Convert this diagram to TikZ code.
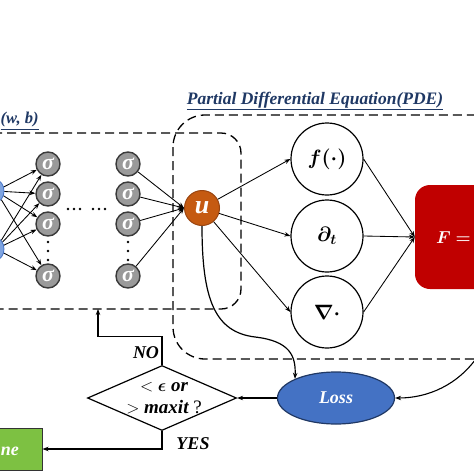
\documentclass[tikz,border=0pt]{standalone}
\usepackage{fontspec}
\setmainfont{Liberation Serif}
\usepackage{bm}
\usetikzlibrary{arrows.meta,shapes.geometric}
\definecolor{navy}{HTML}{1F3864}
\definecolor{sgfill}{HTML}{9A9A9A}
\definecolor{sgdraw}{HTML}{3A3A3A}
\definecolor{uorange}{HTML}{C55A11}
\definecolor{uborder}{HTML}{9A4510}
\definecolor{fred}{HTML}{C00000}
\definecolor{lblue}{HTML}{4472C4}
\definecolor{ldark}{HTML}{203864}
\definecolor{inblue}{HTML}{7FA4E0}
\definecolor{dgreen}{HTML}{7DC142}
\begin{document}
\begin{tikzpicture}[x=1pt,y=-1pt,
  sig/.style={circle, draw=sgdraw, line width=1.4pt, fill=sgfill, minimum size=24pt, inner sep=0pt, text=white, font=\fontsize{22}{22}\selectfont\bfseries\itshape},
  inp/.style={ellipse, draw=lblue, line width=0.8pt, fill=inblue, minimum width=16pt, minimum height=22pt, inner sep=0pt},
  pdec/.style={circle, draw, line width=1.2pt, minimum size=72pt, inner sep=0pt, font=\fontsize{21}{21}\selectfont},
  dbox/.style={draw, dash pattern=on 9pt off 5pt, line width=1.3pt},
  arr/.style={line width=0.85pt, -{Stealth[length=6pt,width=4.5pt]}},
  lab/.style={font=\fontsize{18}{18}\selectfont\bfseries\itshape},
  dotc/.style={circle, fill=black, inner sep=0pt, minimum size=2.8pt}
]
\useasboundingbox (0,0) rectangle (474,474);
\clip (0,0) rectangle (474,474);

% dashed boxes
\draw[dbox, rounded corners=20pt] (-40,133) rectangle (241,309);
\draw[dbox, rounded corners=32pt] (173,115) rectangle (530,359);

% titles
\node[text=navy, anchor=west, inner sep=0pt, font=\fontsize{16.5}{16.5}\selectfont\bfseries\itshape] (ttl1) at (0.5,121) {\underline{(w, b)}};
\node[text=navy, inner sep=0pt, font=\fontsize{17.5}{17.5}\selectfont\bfseries\itshape] (ttl2) at (315,101) {\underline{Partial Differential Equation(PDE)}};

% inputs
\node[inp] (i1) at (-4,191) {};
\node[inp] (i2) at (-4,249) {};

% hidden layers
\node[sig] (a1) at (48,164) {σ};
\node[sig] (a2) at (48,194) {σ};
\node[sig] (a3) at (48,224) {σ};
\node[sig] (a4) at (48,276) {σ};
\node[sig] (b1) at (128,164) {σ};
\node[sig] (b2) at (128,194) {σ};
\node[sig] (b3) at (128,224) {σ};
\node[sig] (b4) at (128,276) {σ};

% dots
\foreach \y [count=\k] in {242,251,260} {
  \node[dotc] (va\k) at (48,\y) {};
  \node[dotc] (vb\k) at (128,\y) {};
}
\foreach \x [count=\k] in {68,74,80,93,99,105} {
  \node[dotc] (h\k) at (\x,209) {};
}

% output u
\node[circle, fill=uorange, draw=uborder, line width=1pt, minimum size=35pt, inner sep=0pt, text=white, font=\fontsize{26}{26}\selectfont\bfseries\itshape] (u) at (202,208) {u};

% PDE operators
\node[pdec] (f) at (327,159) {$\bm{f(\cdot)}$};
\node[pdec] (dt) at (327,236) {$\bm{\partial_t}$};
\node[pdec] (nab) at (327,312) {$\bm{\nabla\cdot}$};

% F box
\node[fill=fred, rounded corners=15pt, minimum width=100pt, minimum height=104pt, inner sep=0pt] (F) at (465,237) {};
\node[text=white, anchor=west, inner sep=0pt, font=\fontsize{19}{19}\selectfont] (Ft) at (436,238) {$\bm{F =}$};

% Loss
\node[ellipse, fill=lblue, draw=ldark, line width=1.2pt, minimum width=117pt, minimum height=52pt, inner sep=0pt, text=white, lab] (loss) at (336,398) {Loss};

% decision
\node[diamond, draw, line width=1.2pt, minimum width=149pt, minimum height=65pt, aspect=2.3, inner sep=0pt] (dec) at (162,398) {};
\node[align=center, inner sep=0pt, font=\fontsize{19}{22}\selectfont\bfseries\itshape] (dect) at (164,398) {{\upshape\mdseries$<$} $\bm{\epsilon}$ or\\{\upshape\mdseries$>$} maxit {\upshape\mdseries ?}};

% done
\node[fill=dgreen, draw=black!80, line width=1pt, minimum width=62pt, minimum height=42pt, inner sep=0pt] (done) at (11,449) {};
\node[lab, text=white, anchor=east, inner sep=0pt] (donet) at (19,451) {ne};

% connectors: input -> layer 1
\foreach \i in {i1,i2} {
  \foreach \a in {a1,a2,a3,a4} {
    \draw[arr] (\i) -- (\a);
  }
}
% layer 2 -> u
\foreach \b in {b1,b2,b3,b4} {
  \draw[arr] (\b) -- (u.west);
}
% u -> operators
\draw[arr] (u) -- (f.west);
\draw[arr] (u) -- (dt.west);
\draw[arr] (u) -- (nab.west);
% operators -> F
\draw[arr] (f.east) -- (F.west);
\draw[arr] (dt.east) -- (F.west);
\draw[arr] (nab.east) -- (F.west);

% u -> loss
\draw[arr, line width=1.2pt] (u.south) .. controls (202,300) and (215,332) .. (255,337) .. controls (290,341) and (296,356) .. (loss.155);
% right -> loss
\coordinate (rin) at (478,356);
\draw[arr, line width=1.1pt] (rin) .. controls (458,385) and (428,398) .. (loss.east);
% loss -> decision
\draw[arr, line width=1.1pt] (loss.west) -- (dec.east);
% NO
\coordinate (nnb) at (98,309);
\draw[arr, line width=1.1pt] (dec.north) -- ++(0,-28) -| (nnb);
\node[lab, inner sep=0pt] (nolab) at (146,353) {NO};
% YES
\draw[arr, line width=1.1pt] (dec.south) |- (done.east);
\node[lab, inner sep=0pt] (yeslab) at (193,444) {YES};
\end{tikzpicture}
\end{document}
